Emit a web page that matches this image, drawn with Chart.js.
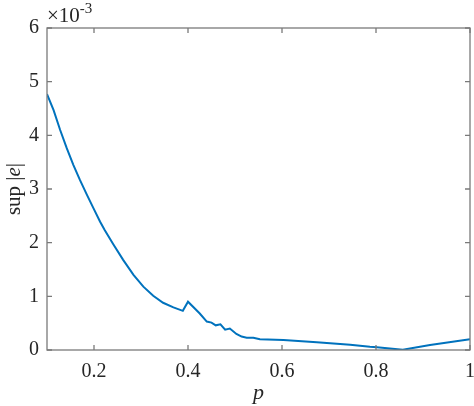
<!DOCTYPE html>
<html>
<head>
<meta charset="utf-8">
<script src="https://cdn.jsdelivr.net/npm/chart.js@4/dist/chart.umd.min.js"></script>
<style>
  html, body { margin: 0; padding: 0; background: #fff; }
  #wrap { width: 474px; height: 406px; }
</style>
</head>
<body>
<div id="wrap"><canvas id="errChart"></canvas></div>
<script>
// p values and sup|e| (in units of 1e-3)
const pValues = [0.100, 0.114, 0.128, 0.142, 0.156, 0.170, 0.185, 0.199, 0.213, 0.223,
  0.241, 0.262, 0.284, 0.305, 0.326, 0.347, 0.369, 0.389, 0.400, 0.425,
  0.440, 0.450, 0.459, 0.469, 0.479, 0.489, 0.503, 0.514, 0.525, 0.539,
  0.553, 0.603, 0.674, 0.745, 0.787, 0.802, 0.857, 0.915, 1.000];
const supErr = [4.77, 4.47, 4.10, 3.76, 3.45, 3.17, 2.89, 2.64, 2.39, 2.23,
  1.97, 1.68, 1.40, 1.18, 1.01, 0.88, 0.795, 0.73, 0.90, 0.68,
  0.53, 0.51, 0.46, 0.48, 0.38, 0.40, 0.30, 0.25, 0.23, 0.23,
  0.20, 0.186, 0.143, 0.099, 0.06, 0.05, 0.005, 0.093, 0.20];

const xTicks = [0.2, 0.4, 0.6, 0.8, 1];
const yTicks = [0, 1, 2, 3, 4, 5, 6];

const axisColor = '#7a7a7a';
const textColor = '#262626';
const serif = '"Liberation Serif", "DejaVu Serif", serif';

// inward ticks, box and the axis labels, MATLAB style
const matlabAxes = {
  id: 'matlabAxes',
  afterDraw(chart) {
    const { ctx, chartArea: a, scales } = chart;
    const tick = 5;
    ctx.save();
    ctx.strokeStyle = axisColor;
    ctx.lineWidth = 1.3;
    ctx.strokeRect(a.left, a.top, a.right - a.left, a.bottom - a.top);
    ctx.beginPath();
    xTicks.forEach(v => {
      const x = scales.x.getPixelForValue(v);
      ctx.moveTo(x, a.bottom); ctx.lineTo(x, a.bottom - tick);
      ctx.moveTo(x, a.top); ctx.lineTo(x, a.top + tick);
    });
    yTicks.forEach(v => {
      const y = scales.y.getPixelForValue(v);
      ctx.moveTo(a.left, y); ctx.lineTo(a.left + tick, y);
      ctx.moveTo(a.right, y); ctx.lineTo(a.right - tick, y);
    });
    ctx.stroke();

    ctx.fillStyle = textColor;
    ctx.textBaseline = 'alphabetic';
    // exponent above the y axis
    ctx.textAlign = 'left';
    ctx.font = '21px ' + serif;
    ctx.fillText('\u00d710', a.left, a.top - 6);
    const w = ctx.measureText('\u00d710').width;
    ctx.font = '15px ' + serif;
    ctx.fillText('-3', a.left + w, a.top - 15);

    // x label
    ctx.textAlign = 'center';
    ctx.font = 'italic 22px ' + serif;
    ctx.fillText('p', (a.left + a.right) / 2, 399);

    // y label: sup |e|
    ctx.translate(20, (a.top + a.bottom) / 2);
    ctx.rotate(-Math.PI / 2);
    const parts = [['sup |', ''], ['e', 'italic '], ['|', '']];
    let total = 0;
    parts.forEach(p => { ctx.font = p[1] + '21px ' + serif; total += ctx.measureText(p[0]).width; });
    let x = -total / 2;
    ctx.textAlign = 'left';
    parts.forEach(p => {
      ctx.font = p[1] + '21px ' + serif;
      ctx.fillText(p[0], x, 0);
      x += ctx.measureText(p[0]).width;
    });
    ctx.restore();
  }
};

new Chart(document.getElementById('errChart'), {
  type: 'line',
  data: {
    labels: pValues,
    datasets: [{
      data: pValues.map((p, i) => ({ x: p, y: supErr[i] })),
      borderColor: '#0072BD',
      borderWidth: 2,
      pointRadius: 0,
      tension: 0,
      fill: false,
    }],
  },
  options: {
    responsive: true,
    maintainAspectRatio: false,
    animation: false,
    layout: { padding: { top: 28, right: 4, left: 0, bottom: 0 } },
    plugins: { legend: { display: false }, tooltip: { enabled: false } },
    scales: {
      x: {
        type: 'linear',
        min: 0.1,
        max: 1,
        afterBuildTicks: s => { s.ticks = xTicks.map(v => ({ value: v })); },
        afterFit: s => { s.height = 56; s.paddingLeft = 0; s.paddingRight = 0; },
        grid: { display: false, drawTicks: false },
        border: { display: false },
        ticks: {
          color: textColor,
          font: { family: serif, size: 20 },
          padding: 10,
          maxRotation: 0,
          callback: v => String(v),
        },
      },
      y: {
        min: 0,
        max: 6,
        afterBuildTicks: s => { s.ticks = yTicks.map(v => ({ value: v })); },
        afterFit: s => { s.width = 47; s.paddingTop = 0; s.paddingBottom = 0; },
        grid: { display: false, drawTicks: false },
        border: { display: false },
        ticks: {
          color: textColor,
          font: { family: serif, size: 20 },
          padding: 8,
        },
      },
    },
  },
  plugins: [matlabAxes],
});
</script>
</body>
</html>
